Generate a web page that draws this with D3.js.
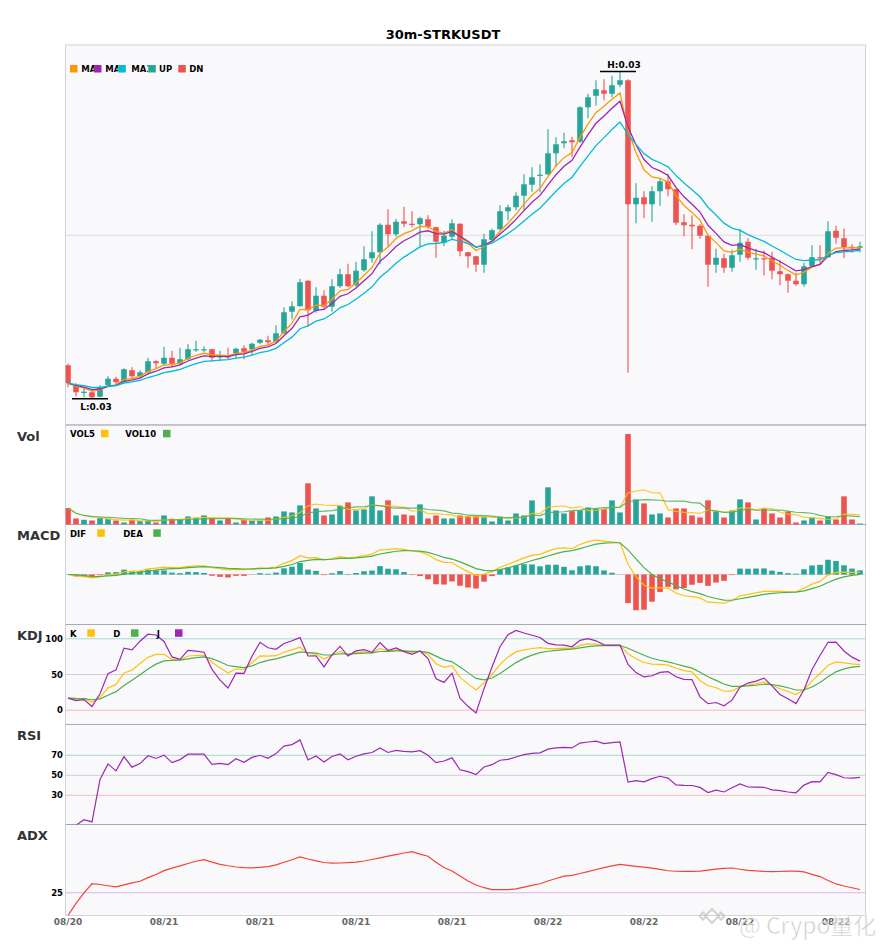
<!DOCTYPE html>
<html>
<head>
<meta charset="utf-8">
<script src="https://cdn.jsdelivr.net/npm/d3@7"></script>
<style>
  body { margin: 0; background: #fff; }
  svg { display: block; font-family: "DejaVu Sans", sans-serif; }
</style>
</head>
<body>
<svg width="885" height="950"></svg>
<script>
// 30m candles, 08/20 18:00 -> 08/22 19:30
const opens = [0.02740, 0.02700, 0.02685, 0.02686, 0.02677, 0.02700, 0.02713, 0.02708, 0.02730, 0.02718,
  0.02726, 0.02748, 0.02743, 0.02755, 0.02743, 0.02752, 0.02770, 0.02770, 0.02772, 0.02756,
  0.02758, 0.02764, 0.02774, 0.02772, 0.02785, 0.02790, 0.02787, 0.02804, 0.02847, 0.02858,
  0.02909, 0.02849, 0.02879, 0.02857, 0.02898, 0.02922, 0.02900, 0.02930, 0.02954, 0.02966,
  0.03021, 0.03002, 0.03028, 0.03023, 0.03022, 0.03032, 0.03016, 0.02985, 0.02997, 0.03023,
  0.02966, 0.02958, 0.02941, 0.02990, 0.03012, 0.03048, 0.03056, 0.03079, 0.03101, 0.03119,
  0.03122, 0.03164, 0.03184, 0.03190, 0.03187, 0.03256, 0.03279, 0.03290, 0.03283, 0.03301,
  0.03310, 0.03062, 0.03076, 0.03062, 0.03088, 0.03108, 0.03092, 0.03026, 0.03021, 0.03019,
  0.02999, 0.02941, 0.02954, 0.02935, 0.02961, 0.02987, 0.02952, 0.02954, 0.02955, 0.02928,
  0.02922, 0.02909, 0.02902, 0.02938, 0.02956, 0.02956, 0.03009, 0.02994, 0.02977, 0.02975];
const highs = [0.02743, 0.02704, 0.02694, 0.02690, 0.02700, 0.02718, 0.02717, 0.02734, 0.02736, 0.02730,
  0.02755, 0.02750, 0.02777, 0.02769, 0.02775, 0.02782, 0.02789, 0.02778, 0.02773, 0.02769,
  0.02775, 0.02775, 0.02780, 0.02785, 0.02793, 0.02799, 0.02820, 0.02856, 0.02868, 0.02913,
  0.02910, 0.02896, 0.02890, 0.02912, 0.02933, 0.02943, 0.02947, 0.02978, 0.03008, 0.03024,
  0.03052, 0.03033, 0.03057, 0.03048, 0.03037, 0.03040, 0.03017, 0.03009, 0.03032, 0.03024,
  0.02967, 0.02959, 0.03003, 0.03013, 0.03060, 0.03061, 0.03086, 0.03122, 0.03136, 0.03142,
  0.03212, 0.03196, 0.03205, 0.03197, 0.03258, 0.03283, 0.03310, 0.03312, 0.03319, 0.03327,
  0.03312, 0.03104, 0.03088, 0.03098, 0.03114, 0.03123, 0.03093, 0.03042, 0.03040, 0.03022,
  0.03000, 0.02973, 0.02963, 0.02971, 0.03013, 0.02994, 0.02973, 0.02969, 0.02967, 0.02950,
  0.02924, 0.02925, 0.02945, 0.02980, 0.02980, 0.03028, 0.03019, 0.03013, 0.02982, 0.02987];
const lows = [0.02696, 0.02678, 0.02676, 0.02674, 0.02676, 0.02696, 0.02698, 0.02706, 0.02712, 0.02714,
  0.02724, 0.02734, 0.02740, 0.02736, 0.02740, 0.02750, 0.02767, 0.02766, 0.02748, 0.02748,
  0.02752, 0.02754, 0.02752, 0.02760, 0.02782, 0.02780, 0.02784, 0.02802, 0.02832, 0.02857,
  0.02817, 0.02845, 0.02852, 0.02847, 0.02895, 0.02896, 0.02897, 0.02927, 0.02945, 0.02942,
  0.02977, 0.02997, 0.03016, 0.03016, 0.02977, 0.03013, 0.02955, 0.02978, 0.02992, 0.02958,
  0.02935, 0.02927, 0.02925, 0.02989, 0.03010, 0.03030, 0.03050, 0.03050, 0.03087, 0.03086,
  0.03120, 0.03137, 0.03174, 0.03157, 0.03185, 0.03234, 0.03259, 0.03270, 0.03276, 0.03296,
  0.02725, 0.03024, 0.03034, 0.03027, 0.03059, 0.03078, 0.03020, 0.02998, 0.02972, 0.02993,
  0.02897, 0.02925, 0.02925, 0.02927, 0.02947, 0.02951, 0.02931, 0.02920, 0.02912, 0.02900,
  0.02885, 0.02899, 0.02897, 0.02935, 0.02940, 0.02955, 0.02983, 0.02954, 0.02965, 0.02966];
const closes = [0.02704, 0.02686, 0.02687, 0.02676, 0.02696, 0.02713, 0.02706, 0.02732, 0.02718, 0.02726,
  0.02748, 0.02744, 0.02755, 0.02743, 0.02752, 0.02772, 0.02772, 0.02772, 0.02755, 0.02758,
  0.02756, 0.02773, 0.02767, 0.02783, 0.02791, 0.02786, 0.02804, 0.02846, 0.02858, 0.02906,
  0.02850, 0.02879, 0.02857, 0.02898, 0.02922, 0.02898, 0.02929, 0.02952, 0.02966, 0.03021,
  0.03002, 0.03027, 0.03023, 0.03021, 0.03034, 0.03017, 0.02987, 0.02999, 0.03024, 0.02968,
  0.02958, 0.02941, 0.02992, 0.03010, 0.03048, 0.03056, 0.03079, 0.03102, 0.03116, 0.03121,
  0.03164, 0.03182, 0.03188, 0.03186, 0.03256, 0.03276, 0.03292, 0.03283, 0.03300, 0.03310,
  0.03062, 0.03075, 0.03062, 0.03088, 0.03108, 0.03092, 0.03025, 0.03020, 0.03018, 0.02999,
  0.02941, 0.02955, 0.02935, 0.02960, 0.02985, 0.02955, 0.02954, 0.02952, 0.02929, 0.02922,
  0.02909, 0.02902, 0.02938, 0.02956, 0.02954, 0.03008, 0.02995, 0.02976, 0.02974, 0.02978];
const volumes = [163000, 60000, 47000, 40000, 63000, 57000, 40000, 20000, 47000, 33000,
  37000, 20000, 90000, 57000, 50000, 80000, 63000, 90000, 60000, 40000,
  60000, 20000, 47000, 37000, 37000, 70000, 80000, 130000, 120000, 190000,
  410000, 160000, 90000, 100000, 187000, 220000, 140000, 150000, 280000, 140000,
  240000, 90000, 100000, 90000, 200000, 60000, 90000, 60000, 60000, 90000,
  83000, 83000, 73000, 30000, 80000, 40000, 110000, 90000, 240000, 60000,
  370000, 140000, 110000, 133000, 140000, 170000, 157000, 157000, 240000, 120000,
  900000, 250000, 210000, 100000, 110000, 70000, 160000, 160000, 90000, 70000,
  240000, 130000, 70000, 140000, 250000, 220000, 50000, 160000, 110000, 70000,
  130000, 20000, 40000, 70000, 40000, 80000, 50000, 280000, 50000, 10000];

// x axis labels, one every 12 candles (6h)
const tickIdx = [0, 12, 24, 36, 48, 60, 72, 84, 96];
const tickLabels = ["08/20", "08/21", "08/21", "08/21", "08/21", "08/22", "08/22", "08/22", "08/22"];
const priceGrid = [0.03];
const maPeriods = [5, 7, 12];
const macdParams = [6, 13, 5];

const UP = "#26a69a", DN = "#ef5350";

// ---- indicator helpers ----
function ema(vals, n) {
    const a = 2 / (n + 1);
    let e = vals[0];
    return vals.map((v, i) => i === 0 ? e : (e = e + a * (v - e)));
}
function sma(vals, n) {
    return vals.map((v, i) => d3.mean(vals.slice(Math.max(0, i - n + 1), i + 1)));
}
function smooth(vals, a) {
    let s = 0;
    return vals.map(v => (s = s + a * (v - s)));
}

function drawChart() {
    const svg = d3.select("svg");
    const left = 65.5, right = 865.5;
    const panels = {
        main: [45, 425], vol: [425, 524.5], macd: [524.5, 624.5],
        kdj: [624.5, 724.5], rsi: [724.5, 824.5], adx: [824.5, 915.5]
    };
    const idx = d3.range(closes.length);

    const x = d3.scaleBand().domain(idx).range([64, 864]).paddingInner(0.3).paddingOuter(0.15);
    const cx = i => x(i) + x.bandwidth() / 2;
    const isUp = i => closes[i] >= opens[i];

    // panel backgrounds + clip paths
    const defs = svg.append("defs");
    Object.entries(panels).forEach(([name, [t, b]]) => {
        svg.append("rect")
            .attr("x", left).attr("y", t)
            .attr("width", right - left).attr("height", b - t)
            .attr("fill", "#f9f9fb")
            .attr("stroke", "#d2d2da").attr("stroke-width", 1);
        defs.append("clipPath").attr("id", "clip-" + name)
            .append("rect").attr("x", left).attr("y", t)
            .attr("width", right - left).attr("height", b - t);
    });
    // darker separators between stacked panels
    ["vol", "macd", "kdj", "rsi", "adx"].forEach(name => {
        svg.append("line")
            .attr("x1", left).attr("x2", right + 1)
            .attr("y1", panels[name][0]).attr("y2", panels[name][0])
            .attr("stroke", "#a9a9ae").attr("stroke-width", 1);
    });

    // ---------- price panel ----------
    const lo = d3.min(lows), hi = d3.max(highs);
    const pad = (hi - lo) * 0.082;
    const y = d3.scaleLinear().domain([lo - pad, hi + pad]).range([panels.main[1], panels.main[0]]);

    svg.selectAll(".pgrid").data(priceGrid).enter().append("line")
        .attr("x1", left).attr("x2", right)
        .attr("y1", d => y(d)).attr("y2", d => y(d))
        .attr("stroke", "#dcdce0").attr("stroke-width", 1);

    const main = svg.append("g").attr("clip-path", "url(#clip-main)");
    const candles = main.selectAll(".candle").data(idx).enter().append("g");
    candles.append("line")
        .attr("x1", cx).attr("x2", cx)
        .attr("y1", i => y(highs[i])).attr("y2", i => y(lows[i]))
        .attr("stroke", i => isUp(i) ? UP : DN).attr("stroke-width", 1.1);
    candles.append("rect")
        .attr("x", i => x(i)).attr("width", x.bandwidth())
        .attr("y", i => y(Math.max(opens[i], closes[i])))
        .attr("height", i => Math.max(1.2, Math.abs(y(opens[i]) - y(closes[i]))))
        .attr("fill", i => isUp(i) ? UP : DN);

    const maColors = ["#ff9800", "#9c27b0", "#00bcd4"];
    maPeriods.forEach((n, k) => {
        const vals = ema(closes, n);
        main.append("path")
            .attr("d", d3.line().x((v, i) => cx(i)).y(v => y(v))(vals))
            .attr("fill", "none").attr("stroke", maColors[k]).attr("stroke-width", 1.3);
    });

    // high / low markers
    const iHi = d3.maxIndex(highs), iLo = d3.minIndex(lows);
    const fmt = d3.format(".2f");
    svg.append("line").attr("x1", cx(iHi) - 20).attr("x2", cx(iHi) + 16)
        .attr("y1", y(hi) - 0.3).attr("y2", y(hi) - 0.3).attr("stroke", "#000").attr("stroke-width", 1.5);
    svg.append("text").attr("x", cx(iHi) + 4).attr("y", y(hi) - 4)
        .attr("text-anchor", "middle").style("font-size", "9px").style("font-weight", "bold")
        .text("H:" + fmt(hi));
    svg.append("line").attr("x1", cx(iLo) - 20).attr("x2", cx(iLo) + 16)
        .attr("y1", y(lo) + 0.5).attr("y2", y(lo) + 0.5).attr("stroke", "#000").attr("stroke-width", 1.5);
    svg.append("text").attr("x", cx(iLo) + 4).attr("y", y(lo) + 12)
        .attr("text-anchor", "middle").style("font-size", "9px").style("font-weight", "bold")
        .text("L:" + fmt(lo));

    // main legend: square then label, the next square hides the overflowing label
    const mainLegend = maPeriods.map((n, k) => ({ label: "MA" + n, color: maColors[k] }))
        .concat([{ label: "UP", color: UP }, { label: "DN", color: DN }]);
    const boxX = [70, 94, 118.3, 148.3, 178.3];
    const textX = [81.3, 105.3, 131.3, 159, 189.3];
    mainLegend.forEach((d, k) => {
        const clipW = (k < boxX.length - 1 ? boxX[k + 1] : 260) - textX[k];
        defs.append("clipPath").attr("id", "lg" + k)
            .append("rect").attr("x", textX[k]).attr("y", 55).attr("width", clipW).attr("height", 25);
        svg.append("rect").attr("x", boxX[k]).attr("y", 65).attr("width", 7.5).attr("height", 7.5)
            .attr("fill", d.color);
        svg.append("text").attr("x", textX[k]).attr("y", 72.3)
            .attr("clip-path", "url(#lg" + k + ")")
            .style("font-size", "8.5px").style("font-weight", "bold").text(d.label);
    });

    // ---------- sub panel helpers ----------
    function panelLabel(name, text) {
        svg.append("text").attr("x", 17).attr("y", panels[name][0] + 15.5)
            .style("font-size", "13px").style("font-weight", "bold").style("fill", "#333")
            .text(text);
    }
    function subLegend(name, items, tx, bx) {
        const t = panels[name][0];
        items.forEach((d, k) => {
            svg.append("text").attr("x", tx[k]).attr("y", t + 12.2)
                .style("font-size", "8.5px").style("font-weight", "bold").text(d.label);
            svg.append("rect").attr("x", bx[k]).attr("y", t + 4.8).attr("width", 7.5).attr("height", 7.5)
                .attr("fill", d.color);
        });
    }
    function refLines(yScale, lines) {
        lines.forEach(l => {
            svg.append("line").attr("x1", left).attr("x2", right)
                .attr("y1", yScale(l.v)).attr("y2", yScale(l.v))
                .attr("stroke", l.color).attr("stroke-width", 1);
            svg.append("text").attr("x", 63).attr("y", yScale(l.v) + 3)
                .attr("text-anchor", "end")
                .style("font-size", "8.5px").style("font-weight", "bold").text(l.v);
        });
    }
    function drawLine(g, vals, yScale, color, width = 1.2) {
        return g.append("path")
            .attr("d", d3.line().x((v, i) => cx(i)).y(v => yScale(v))(vals))
            .attr("fill", "none").attr("stroke", color).attr("stroke-width", width);
    }

    // ---------- volume ----------
    const yVol = d3.scaleLinear().domain([0, d3.max(volumes) * 1.1]).range([panels.vol[1], panels.vol[0]]);
    const gVol = svg.append("g").attr("clip-path", "url(#clip-vol)");
    gVol.selectAll(".vbar").data(idx).enter().append("rect")
        .attr("x", i => x(i)).attr("width", x.bandwidth())
        .attr("y", i => yVol(volumes[i]))
        .attr("height", i => yVol(0) - yVol(volumes[i]))
        .attr("fill", i => isUp(i) ? UP : DN);
    drawLine(gVol, sma(volumes, 5), yVol, "#ffc107").attr("opacity", 0.85);
    drawLine(gVol, sma(volumes, 10), yVol, "#4caf50").attr("opacity", 0.85);
    panelLabel("vol", "Vol");
    subLegend("vol", [{ label: "VOL5", color: "#ffc107" }, { label: "VOL10", color: "#4caf50" }],
        [70, 125.3], [101, 163]);

    // ---------- MACD ----------
    const eFast = ema(closes, macdParams[0]), eSlow = ema(closes, macdParams[1]);
    const dif = eFast.map((v, i) => v - eSlow[i]);
    const dea = ema(dif, macdParams[2]);
    const hist = dif.map((v, i) => 2 * (v - dea[i]));
    const mAbs = d3.max(dif.concat(dea, hist), v => Math.abs(v)) * 1.4;
    const yMacd = d3.scaleLinear().domain([-mAbs, mAbs]).range([panels.macd[1], panels.macd[0]]);
    const gMacd = svg.append("g").attr("clip-path", "url(#clip-macd)");
    gMacd.append("line").attr("x1", left).attr("x2", right)
        .attr("y1", yMacd(0)).attr("y2", yMacd(0)).attr("stroke", "#c8c8c8").attr("stroke-width", 0.8);
    gMacd.selectAll(".mbar").data(idx).enter().append("rect")
        .attr("x", i => x(i)).attr("width", x.bandwidth())
        .attr("y", i => Math.min(yMacd(0), yMacd(hist[i])))
        .attr("height", i => Math.abs(yMacd(hist[i]) - yMacd(0)))
        .attr("fill", i => hist[i] >= 0 ? UP : DN);
    drawLine(gMacd, dif, yMacd, "#ffc107");
    drawLine(gMacd, dea, yMacd, "#4caf50");
    panelLabel("macd", "MACD");
    subLegend("macd", [{ label: "DIF", color: "#ffc107" }, { label: "DEA", color: "#4caf50" }],
        [70, 123.3], [97.3, 153.3]);

    // ---------- KDJ (9, 3, 3) ----------
    const rsv = idx.map(i => {
        const h = d3.max(highs.slice(Math.max(0, i - 8), i + 1));
        const l = d3.min(lows.slice(Math.max(0, i - 8), i + 1));
        return h === l ? 50 : (closes[i] - l) / (h - l) * 100;
    });
    const kv = [], dv = [];
    rsv.forEach((r, i) => {
        kv.push(i === 0 ? r : (2 * kv[i - 1] + r) / 3);
        dv.push(i === 0 ? kv[0] : (2 * dv[i - 1] + kv[i]) / 3);
    });
    const jv = kv.map((k, i) => 3 * k - 2 * dv[i]);
    const yK = d3.scaleLinear().domain([-20, 120]).range([panels.kdj[1], panels.kdj[0]]);
    refLines(yK, [{ v: 100, color: "#a6d8d4" }, { v: 50, color: "#d0d0d4" }, { v: 0, color: "#f6b8b8" }]);
    const gK = svg.append("g").attr("clip-path", "url(#clip-kdj)");
    drawLine(gK, kv, yK, "#ffc107");
    drawLine(gK, dv, yK, "#4caf50");
    drawLine(gK, jv, yK, "#9c27b0");
    panelLabel("kdj", "KDJ");
    subLegend("kdj", [{ label: "K", color: "#ffc107" }, { label: "D", color: "#4caf50" }, { label: "J", color: "#9c27b0" }],
        [70, 113.3, 156.7], [87.3, 131, 175]);

    // ---------- RSI (14) ----------
    const chg = closes.map((c, i) => i ? c - closes[i - 1] : 0);
    const ag = smooth(chg.map(v => Math.max(v, 0)), 1 / 14);
    const al = smooth(chg.map(v => Math.max(-v, 0)), 1 / 14);
    const rsi = ag.map((g, i) => (g + al[i]) === 0 ? 0 : 100 * g / (g + al[i]));
    const yR = d3.scaleLinear().domain([0, 100]).range([panels.rsi[1] + 0.8, panels.rsi[0] + 0.8]);
    refLines(yR, [{ v: 70, color: "#a6d8d4" }, { v: 50, color: "#d0d0d4" }, { v: 30, color: "#f6b8b8" }]);
    const gR = svg.append("g").attr("clip-path", "url(#clip-rsi)");
    drawLine(gR, rsi, yR, "#9c27b0");
    panelLabel("rsi", "RSI");

    // ---------- ADX (14) ----------
    const tr = idx.map(i => i === 0 ? highs[0] - lows[0] :
        Math.max(highs[i] - lows[i], Math.abs(highs[i] - closes[i - 1]), Math.abs(lows[i] - closes[i - 1])));
    const pdm = idx.map(i => {
        if (i === 0) return 0;
        const up = highs[i] - highs[i - 1], dn = lows[i - 1] - lows[i];
        return up > dn && up > 0 ? up : 0;
    });
    const mdm = idx.map(i => {
        if (i === 0) return 0;
        const up = highs[i] - highs[i - 1], dn = lows[i - 1] - lows[i];
        return dn > up && dn > 0 ? dn : 0;
    });
    const atr = smooth(tr, 1 / 14), spdm = smooth(pdm, 1 / 14), smdm = smooth(mdm, 1 / 14);
    const dx = idx.map(i => {
        const p = spdm[i] / atr[i] * 100, m = smdm[i] / atr[i] * 100;
        return (p + m) === 0 ? 0 : Math.abs(p - m) / (p + m) * 100;
    });
    const adx = smooth(dx, 2 / 15);
    const yA = d3.scaleLinear().domain([0, 100]).range([panels.adx[1], panels.adx[0]]);
    refLines(yA, [{ v: 25, color: "#dcb2e4" }]);
    const gA = svg.append("g").attr("clip-path", "url(#clip-adx)");
    drawLine(gA, adx, yA, "#f44336");
    panelLabel("adx", "ADX");

    // ---------- x labels ----------
    svg.selectAll(".xlab").data(tickIdx).enter().append("text")
        .attr("x", i => cx(i)).attr("y", 925)
        .attr("text-anchor", "middle")
        .style("font-size", "9px").style("font-weight", "bold").style("fill", "#666")
        .text((d, k) => tickLabels[k]);

    // ---------- title ----------
    svg.append("text").attr("x", 443).attr("y", 38.5)
        .attr("text-anchor", "middle")
        .style("font-size", "13px").style("font-weight", "bold")
        .text("30m-STRKUSDT");

    // ---------- watermark ----------
    const wm = svg.append("g").attr("opacity", 0.75);
    [[712, 916, 7], [703, 916, 3.5], [721, 916, 3.5]].forEach(([wx, wy, r]) => {
        wm.append("path")
            .attr("d", `M${wx},${wy - r}L${wx + r},${wy}L${wx},${wy + r}L${wx - r},${wy}Z`)
            .attr("fill", "none").attr("stroke", "#c4c4c4").attr("stroke-width", 2);
    });
    wm.append("text").attr("x", 739).attr("y", 934)
        .style("font-family", "'Noto Sans CJK SC', 'Noto Sans', sans-serif")
        .style("font-size", "23px").style("fill", "#bdbdbd")
        .style("stroke", "#fff").style("stroke-width", 0.6)
        .text("@ Crypo量化");
}

window.addEventListener('load', drawChart);
</script>
</body>
</html>
